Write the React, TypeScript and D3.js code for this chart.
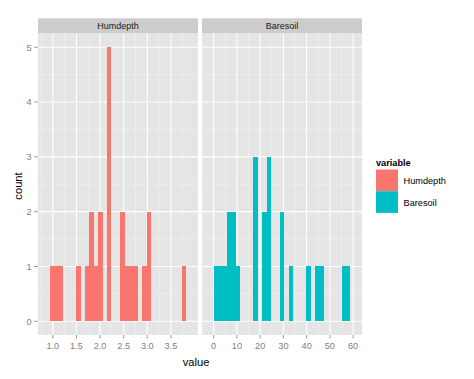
import React from "react";
import * as d3 from "d3";

// Histogram counts per bin (31 bins each, ggplot default binwidth = range/30)
const facets = ["Humdepth", "Baresoil"];
const humdepthCounts = [1, 1, 1, 0, 0, 0, 1, 0, 1, 2, 1, 2, 0, 5, 0, 0, 2, 1, 1, 1, 0, 1, 2, 0, 0, 0, 0, 0, 0, 0, 1];
const baresoilCounts = [1, 1, 1, 2, 2, 1, 0, 0, 0, 3, 0, 2, 3, 0, 0, 2, 0, 1, 0, 0, 0, 1, 0, 1, 1, 0, 0, 0, 0, 1, 1];
const humdepthRange = [1.0, 3.8];
const baresoilRange = [0, 56.9];
const humdepthTicks = [1.0, 1.5, 2.0, 2.5, 3.0, 3.5];
const baresoilTicks = [0, 10, 20, 30, 40, 50, 60];
const countTicks = [0, 1, 2, 3, 4, 5];
const colors = ["#F8766D", "#00BFC4"];

const FONT = "'Liberation Sans', Arial, Helvetica, sans-serif";

function binsFor(counts: number[], range: number[]) {
  const bw = (range[1] - range[0]) / 30;
  const start = Math.floor(range[0] / bw + 1e-9) * bw;
  return counts.map((c, i) => ({ x0: start + i * bw, x1: start + (i + 1) * bw, count: c, bw }));
}

export default function App() {
  const W = 474, H = 379;
  const top = 33.5, bottom = 335;
  const stripTop = 18.3;
  const panels = [
    { name: facets[0], x0: 38, x1: 198, bins: binsFor(humdepthCounts, humdepthRange), ticks: humdepthTicks, fmt: d3.format(".1f"), color: colors[0] },
    { name: facets[1], x0: 202, x1: 362, bins: binsFor(baresoilCounts, baresoilRange), ticks: baresoilTicks, fmt: d3.format("d"), color: colors[1] },
  ];
  const y = d3.scaleLinear().domain([-0.25, 5.25]).range([bottom, top]);
  const yMinor = [0.5, 1.5, 2.5, 3.5, 4.5];

  return (
    <svg width={W} height={H} style={{ display: "block", position: "absolute", left: 0, top: 0 }} fontFamily={FONT}>
      <rect x={0} y={0} width={W} height={H} fill="white" />
      {panels.map((p, pi) => {
        const bw = p.bins[0].bw;
        const lo = p.bins[0].x0 - bw;
        const hi = p.bins[p.bins.length - 1].x1 + bw;
        const ex = (hi - lo) * 0.05;
        const x = d3.scaleLinear().domain([lo - ex, hi + ex]).range([p.x0, p.x1]);
        const step = p.ticks[1] - p.ticks[0];
        const minors = [p.ticks[0] - step / 2, ...p.ticks.map((t) => t + step / 2)].filter(
          (m) => m >= lo - ex && m <= hi + ex
        );
        return (
          <g key={p.name}>
            <rect x={p.x0} y={stripTop} width={p.x1 - p.x0} height={top - stripTop} fill="#CCCCCC" />
            <text x={(p.x0 + p.x1) / 2} y={(stripTop + top) / 2 + 3.2} textAnchor="middle" fontSize={9} fill="#1A1A1A">
              {p.name}
            </text>
            <rect x={p.x0} y={top} width={p.x1 - p.x0} height={bottom - top} fill="#E5E5E5" />
            {minors.map((m) => (
              <line key={"mx" + m} x1={x(m)} x2={x(m)} y1={top} y2={bottom} stroke="#F2F2F2" strokeWidth={0.6} />
            ))}
            {yMinor.map((m) => (
              <line key={"my" + m} x1={p.x0} x2={p.x1} y1={y(m)} y2={y(m)} stroke="#F2F2F2" strokeWidth={0.6} />
            ))}
            {p.ticks.map((t) => (
              <line key={"gx" + t} x1={x(t)} x2={x(t)} y1={top} y2={bottom} stroke="white" strokeWidth={1.1} />
            ))}
            {countTicks.map((t) => (
              <line key={"gy" + t} x1={p.x0} x2={p.x1} y1={y(t)} y2={y(t)} stroke="white" strokeWidth={1.1} />
            ))}
            {p.bins.filter((b) => b.count > 0).map((b, i) => (
              <rect
                key={"b" + i}
                x={x(b.x0)}
                width={x(b.x1) - x(b.x0)}
                y={y(b.count)}
                height={y(0) - y(b.count)}
                fill={p.color}
                shapeRendering="crispEdges"
              />
            ))}
            {p.ticks.map((t) => (
              <g key={"t" + t}>
                <line x1={x(t)} x2={x(t)} y1={bottom} y2={bottom + 3.5} stroke="#7F7F7F" strokeWidth={0.8} />
                <text x={x(t)} y={bottom + 14} textAnchor="middle" fontSize={9.2} fill="#7F7F7F">
                  {p.fmt(t)}
                </text>
              </g>
            ))}
            {pi === 0 &&
              countTicks.map((t) => (
                <g key={"yt" + t}>
                  <line x1={p.x0 - 3.8} x2={p.x0} y1={y(t)} y2={y(t)} stroke="#7F7F7F" strokeWidth={0.8} />
                  <text x={31.5} y={y(t) + 3.3} textAnchor="end" fontSize={9.2} fill="#7F7F7F">
                    {t}
                  </text>
                </g>
              ))}
          </g>
        );
      })}
      <text x={196} y={366} textAnchor="middle" fontSize={11.2} fill="black">
        value
      </text>
      <text transform="translate(22,186) rotate(-90)" textAnchor="middle" fontSize={11.2} fill="black">
        count
      </text>
      <text x={376} y={165.5} fontSize={9.2} fontWeight="bold" fill="black">
        variable
      </text>
      {facets.map((f, i) => (
        <g key={"leg" + f}>
          <rect x={376} y={169.5 + i * 21.7} width={22} height={21.7} fill={colors[i]} />
          <text x={403.5} y={169.5 + i * 21.7 + 14.3} fontSize={9.2} fill="black">
            {f}
          </text>
        </g>
      ))}
    </svg>
  );
}
